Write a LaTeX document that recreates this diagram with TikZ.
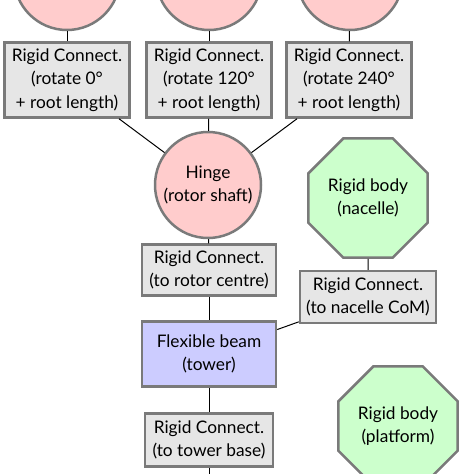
\documentclass[tikz,border=0pt]{standalone}
\usepackage{fontspec}
\setmainfont{Lato}
\usetikzlibrary{shapes.geometric}
\definecolor{bordergray}{HTML}{7A7A7A}
\definecolor{boxgray}{HTML}{E6E6E6}
\definecolor{hingepink}{HTML}{FFCCCC}
\definecolor{bodygreen}{HTML}{CCFFCC}
\definecolor{beamblue}{HTML}{CCCCFF}

\begin{document}
\begin{tikzpicture}[x=1pt, y=-1pt, font=\fontsize{17.3}{23.5}\selectfont,
    every node/.style={align=center, draw=bordergray, line width=2.5pt, inner sep=0pt},
    rigidconnect/.style={rectangle, fill=boxgray, minimum width=125pt, minimum height=75pt},
    hingenode/.style={circle, fill=hingepink, minimum size=106pt},
    bodynode/.style={regular polygon, regular polygon sides=8, fill=bodygreen, minimum size=129pt},
    beamnode/.style={rectangle, fill=beamblue, minimum width=134pt, minimum height=65pt},
    link/.style={draw=black, line width=1pt}]
    \clip (0,0) rectangle (474,474);

    % blade hinges (cut off at the top)
    \node[hingenode] (bladeA) at (67,-23) {};
    \node[hingenode] (bladeB) at (209,-23) {};
    \node[hingenode] (bladeC) at (350,-23) {};

    \node[rigidconnect] (rcA) at (67,80) {Rigid Connect.\\(rotate 0°\\+ root length)};
    \node[rigidconnect] (rcB) at (209,80) {Rigid Connect.\\(rotate 120°\\+ root length)};
    \node[rigidconnect] (rcC) at (349,80) {Rigid Connect.\\(rotate 240°\\+ root length)};

    \node[hingenode] (hinge) at (208,185) {Hinge\\(rotor shaft)};
    \node[rigidconnect, minimum width=134pt, minimum height=51pt] (rcrotor) at (209,270) {Rigid Connect.\\(to rotor centre)};

    % nacelle
    \node[bodynode] (nacelle) at (368,198) {Rigid body\\(nacelle)};
    \node[rigidconnect, minimum width=136pt, minimum height=52pt] (rcnacelle) at (368,297) {Rigid Connect.\\(to nacelle CoM)};

    % tower
    \node[beamnode] (tower) at (209,354) {Flexible beam\\(tower)};
    \node[rigidconnect, minimum width=128pt, minimum height=53pt] (rcbase) at (209,440) {Rigid Connect.\\(to tower base)};
    \coordinate (below) at (209,480);

    \node[bodynode] (platform) at (398,426) {Rigid body\\(platform)};

    \draw[link] (bladeA) -- (rcA);
    \draw[link] (bladeB) -- (rcB);
    \draw[link] (bladeC) -- (rcC);
    \draw[link] (rcA) -- (hinge);
    \draw[link] (rcB) -- (hinge);
    \draw[link] (rcC) -- (hinge);
    \draw[link] (hinge) -- (rcrotor);
    \draw[link] (rcrotor) -- (tower);
    \draw[link] (nacelle) -- (rcnacelle);
    \draw[link] (rcnacelle) -- (tower);
    \draw[link] (tower) -- (rcbase);
    \draw[link] (rcbase) -- (below);
\end{tikzpicture}
\end{document}
